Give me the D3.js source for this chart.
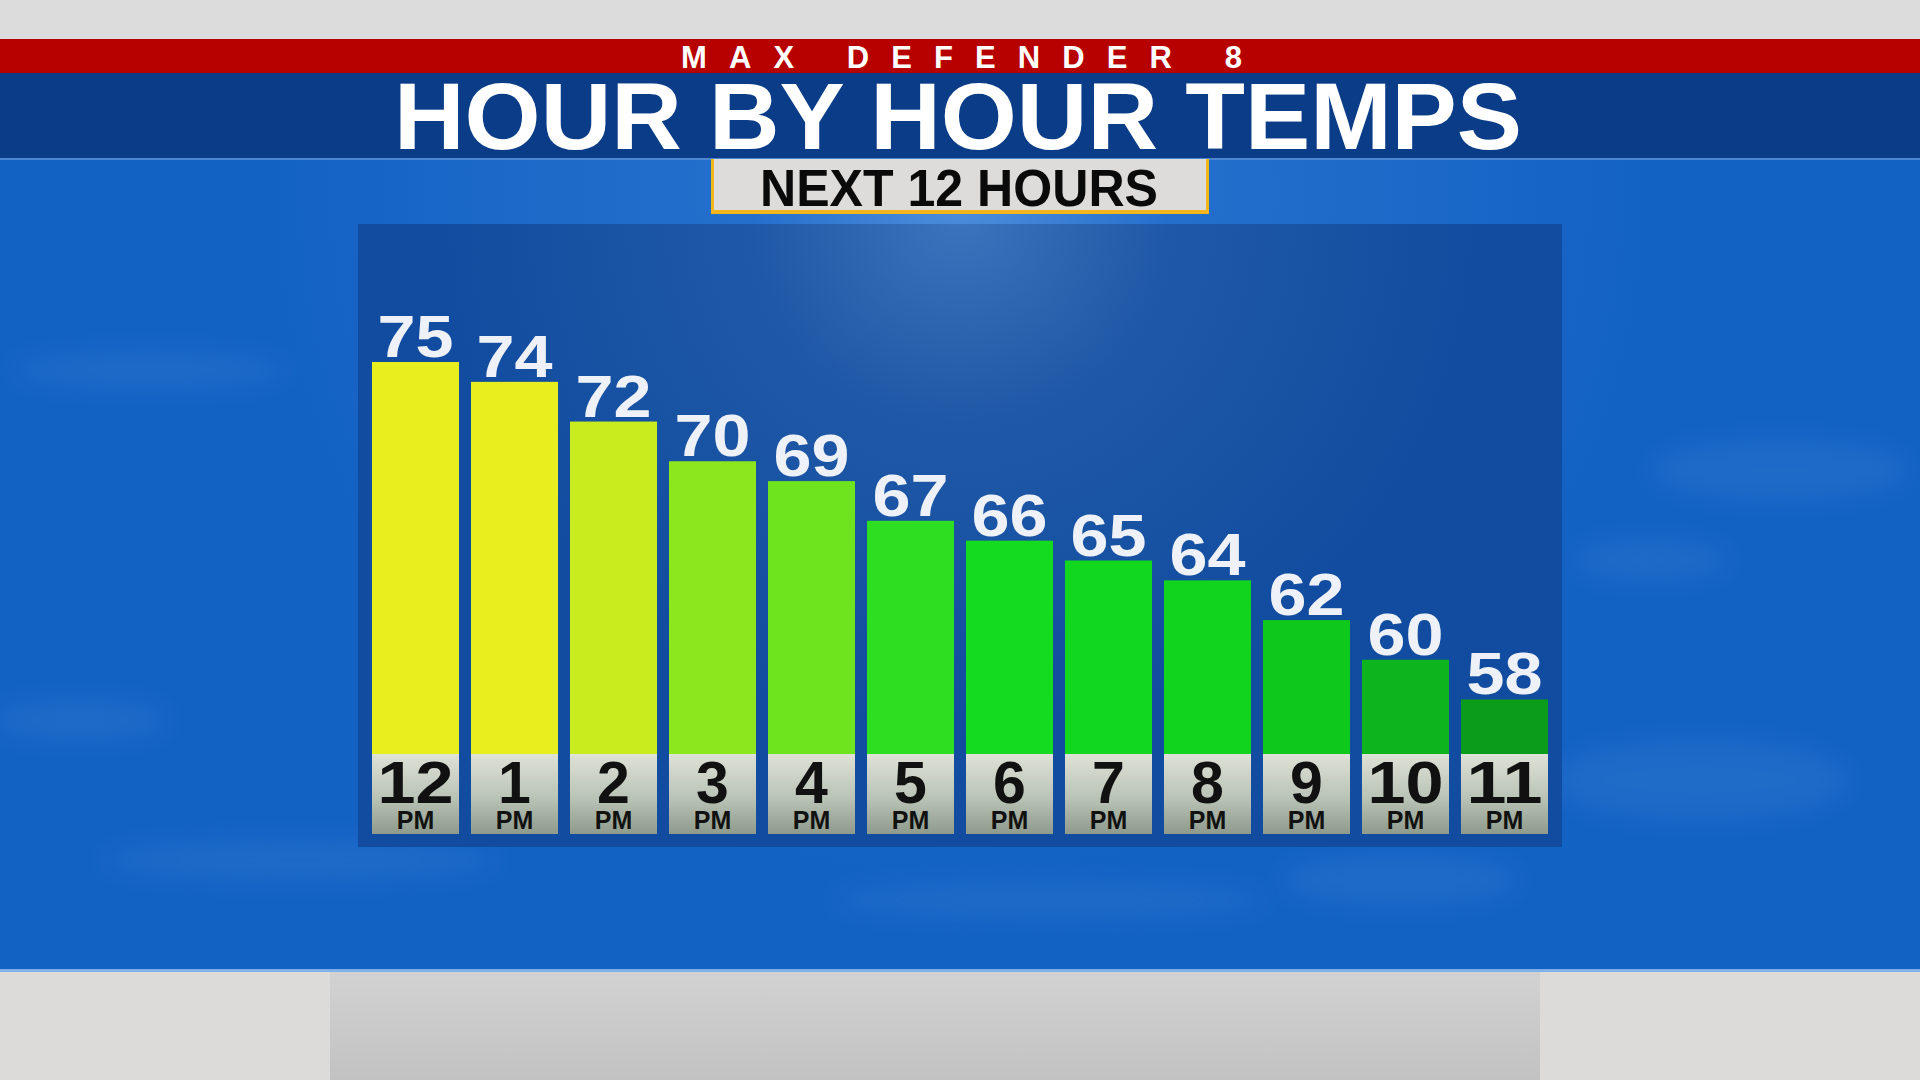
<!DOCTYPE html>
<html>
<head>
<meta charset="utf-8">
<script src="https://cdn.jsdelivr.net/npm/d3@7/dist/d3.min.js"></script>
<style>
  html, body { margin: 0; padding: 0; background: #d8d8d8; }
  svg { display: block; }
</style>
</head>
<body>
<div id="chart"></div>
<script>
// 数据
var hours = ['12', '1', '2', '3', '4', '5', '6', '7', '8', '9', '10', '11']
var periods = ['PM', 'PM', 'PM', 'PM', 'PM', 'PM', 'PM', 'PM', 'PM', 'PM', 'PM', 'PM']
var temps = [75, 74, 72, 70, 69, 67, 66, 65, 64, 62, 60, 58]

var W = 1920, H = 1080
var svg = d3.select('#chart').append('svg')
  .attr('width', W)
  .attr('height', H)

var defs = svg.append('defs')

// sky gradient
var sky = defs.append('radialGradient')
  .attr('id', 'skyGlow')
  .attr('gradientUnits', 'userSpaceOnUse')
  .attr('cx', 960).attr('cy', 190).attr('r', 700)
sky.append('stop').attr('offset', '0%').attr('stop-color', '#4f8fdc')
sky.append('stop').attr('offset', '30%').attr('stop-color', '#246fcc')
sky.append('stop').attr('offset', '100%').attr('stop-color', '#1262c4')

var panelG = defs.append('radialGradient')
  .attr('id', 'panelGlow')
  .attr('gradientUnits', 'userSpaceOnUse')
  .attr('cx', 960).attr('cy', 215).attr('r', 520)
panelG.append('stop').attr('offset', '0%').attr('stop-color', '#3d74bd')
panelG.append('stop').attr('offset', '40%').attr('stop-color', '#1f58a6')
panelG.append('stop').attr('offset', '100%').attr('stop-color', '#114ca0')

var labG = defs.append('linearGradient')
  .attr('id', 'labelBg')
  .attr('x1', 0).attr('y1', 0).attr('x2', 0).attr('y2', 1)
labG.append('stop').attr('offset', '0%').attr('stop-color', '#dfe2d6')
labG.append('stop').attr('offset', '55%').attr('stop-color', '#b9c3b6')
labG.append('stop').attr('offset', '100%').attr('stop-color', '#8e9a8b')

var bottomG = defs.append('linearGradient')
  .attr('id', 'bottomBg')
  .attr('x1', 0).attr('y1', 0).attr('x2', 0).attr('y2', 1)
bottomG.append('stop').attr('offset', '0%').attr('stop-color', '#d2d2d2')
bottomG.append('stop').attr('offset', '100%').attr('stop-color', '#c2c2c2')

defs.append('filter').attr('id', 'blur')
  .attr('x', '-50%').attr('y', '-50%').attr('width', '200%').attr('height', '200%')
  .append('feGaussianBlur').attr('stdDeviation', 14)

// 背景
svg.append('rect').attr('x', 0).attr('y', 0).attr('width', W).attr('height', 40).attr('fill', '#dcdcdc')
svg.append('rect').attr('x', 0).attr('y', 159).attr('width', W).attr('height', 812).attr('fill', 'url(#skyGlow)')

// faint clouds
var clouds = [[150, 370, 140, 18], [520, 400, 160, 22], [1780, 470, 130, 30], [1700, 780, 150, 40],
  [300, 860, 200, 20], [1050, 900, 220, 18], [1400, 880, 120, 25], [80, 720, 90, 20], [1650, 560, 80, 20]]
svg.append('g').selectAll('ellipse')
  .data(clouds)
  .enter()
  .append('ellipse')
  .attr('cx', function(d) { return d[0] })
  .attr('cy', function(d) { return d[1] })
  .attr('rx', function(d) { return d[2] })
  .attr('ry', function(d) { return d[3] })
  .attr('fill', '#8fb8ec')
  .attr('opacity', 0.1)
  .attr('filter', 'url(#blur)')

// bottom gray
svg.append('rect').attr('x', 0).attr('y', 971).attr('width', W).attr('height', 109).attr('fill', '#dcdbda')
svg.append('rect').attr('x', 330).attr('y', 971).attr('width', 1210).attr('height', 109).attr('fill', 'url(#bottomBg)')
svg.append('rect').attr('x', 0).attr('y', 969).attr('width', W).attr('height', 3).attr('fill', '#7fb0e6')

// 标题栏
svg.append('rect').attr('x', 0).attr('y', 39).attr('width', W).attr('height', 35).attr('fill', '#b70000')
svg.append('rect').attr('x', 0).attr('y', 73).attr('width', W).attr('height', 86).attr('fill', '#0a3c88')
svg.append('rect').attr('x', 0).attr('y', 158).attr('width', W).attr('height', 2).attr('fill', '#4a86d2')

svg.append('text')
  .attr('x', 681).attr('y', 68)
  .attr('font-family', 'Liberation Sans, Arial, sans-serif')
  .attr('font-weight', 700)
  .attr('font-size', 31)
  .attr('fill', '#ffffff')
  .attr('textLength', 561)
  .attr('lengthAdjust', 'spacing')
  .text('MAX DEFENDER 8')

svg.append('text')
  .attr('x', 394).attr('y', 149)
  .attr('font-family', 'Liberation Sans, Arial, sans-serif')
  .attr('font-weight', 700)
  .attr('font-size', 94)
  .attr('fill', '#ffffff')
  .attr('textLength', 1128)
  .attr('lengthAdjust', 'spacingAndGlyphs')
  .text('HOUR BY HOUR TEMPS')

// 图表面板
svg.append('rect')
  .attr('x', 358).attr('y', 224).attr('width', 1204).attr('height', 623)
  .attr('fill', 'url(#panelGlow)')

// 副标题
svg.append('rect')
  .attr('x', 711).attr('y', 159).attr('width', 498).attr('height', 55)
  .attr('fill', '#f2b51c')
svg.append('rect')
  .attr('x', 714).attr('y', 159).attr('width', 492).attr('height', 51)
  .attr('fill', '#dddcdb')
svg.append('text')
  .attr('x', 760).attr('y', 206)
  .attr('font-family', 'Liberation Sans, Arial, sans-serif')
  .attr('font-weight', 700)
  .attr('font-size', 52)
  .attr('fill', '#0a0a0a')
  .attr('textLength', 398)
  .attr('lengthAdjust', 'spacingAndGlyphs')
  .text('NEXT 12 HOURS')

// 比例尺
var x = d3.scaleBand()
  .domain(hours)
  .range([372, 1548])
  .paddingInner(0.121)
  .paddingOuter(0)

var y = d3.scaleLinear()
  .domain([55, 75])
  .range([759, 362])

var color = d3.scaleLinear()
  .domain([58, 60, 62, 64, 66, 67, 69, 70, 72, 74])
  .range(['#0c9c1c', '#0db41e', '#0ec81c', '#10d41e', '#14da20', '#2ede20', '#6ee41e', '#8ce81c', '#c8ec1e', '#e8ef1e'])
  .clamp(true)

var LABEL_TOP = 754, LABEL_BOTTOM = 834

var rows = hours.map(function(h, i) {
  return { hour: h, period: periods[i], temp: temps[i] }
})

var g = svg.append('g')

// 柱子
g.selectAll('.bar')
  .data(rows)
  .enter()
  .append('rect')
  .attr('class', 'bar')
  .attr('x', function(d) { return x(d.hour) })
  .attr('y', function(d) { return y(d.temp) })
  .attr('width', x.bandwidth())
  .attr('height', function(d) { return LABEL_TOP - y(d.temp) })
  .attr('fill', function(d) { return color(d.temp) })

// 数值
g.selectAll('.val')
  .data(rows)
  .enter()
  .append('text')
  .attr('class', 'val')
  .attr('x', function(d) { return x(d.hour) + x.bandwidth() / 2 })
  .attr('y', function(d) { return y(d.temp) - 5 })
  .attr('text-anchor', 'middle')
  .attr('font-family', 'Liberation Sans, Arial, sans-serif')
  .attr('font-weight', 700)
  .attr('font-size', 59)
  .attr('fill', '#eef1f7')
  .attr('textLength', 76)
  .attr('lengthAdjust', 'spacingAndGlyphs')
  .text(function(d) { return d.temp })

// 时间标签底
g.selectAll('.lab-bg')
  .data(rows)
  .enter()
  .append('rect')
  .attr('class', 'lab-bg')
  .attr('x', function(d) { return x(d.hour) })
  .attr('y', LABEL_TOP)
  .attr('width', x.bandwidth())
  .attr('height', LABEL_BOTTOM - LABEL_TOP)
  .attr('fill', 'url(#labelBg)')

g.selectAll('.hour')
  .data(rows)
  .enter()
  .append('text')
  .attr('class', 'hour')
  .attr('x', function(d) { return x(d.hour) + x.bandwidth() / 2 })
  .attr('y', 803)
  .attr('text-anchor', 'middle')
  .attr('font-family', 'Liberation Sans, Arial, sans-serif')
  .attr('font-weight', 700)
  .attr('font-size', 59)
  .attr('fill', '#111111')
  .each(function(d) {
    if (d.hour.length > 1) {
      d3.select(this).attr('textLength', 76).attr('lengthAdjust', 'spacingAndGlyphs')
    }
  })
  .text(function(d) { return d.hour })

g.selectAll('.pm')
  .data(rows)
  .enter()
  .append('text')
  .attr('class', 'pm')
  .attr('x', function(d) { return x(d.hour) + x.bandwidth() / 2 })
  .attr('y', 829)
  .attr('text-anchor', 'middle')
  .attr('font-family', 'Liberation Sans, Arial, sans-serif')
  .attr('font-weight', 700)
  .attr('font-size', 25)
  .attr('fill', '#111111')
  .text(function(d) { return d.period })
</script>
</body>
</html>
